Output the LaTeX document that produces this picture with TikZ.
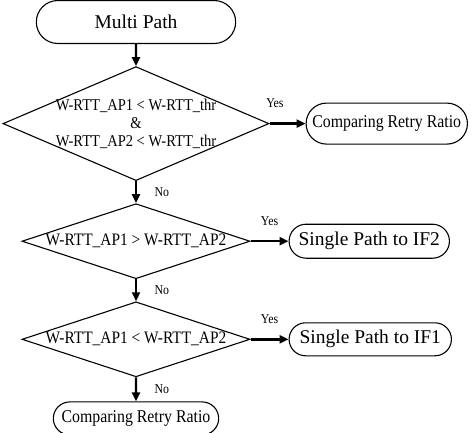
\documentclass[tikz,border=0pt]{standalone}
\usepackage{fontspec}
\setmainfont{Liberation Serif}
\newfontfamily\narrowfont{Liberation Serif}[FakeStretch=0.88]
\usetikzlibrary{arrows.meta, positioning, shapes.geometric, shapes.misc}

\begin{document}
\begin{tikzpicture}[
    x=1pt, y=1pt,
    node distance=22pt and 38pt,
    terminal/.style={rounded rectangle, draw, line width=1.1pt},
    decision/.style={diamond, draw, line width=1.1pt, inner sep=-8pt, align=center, font=\narrowfont\fontsize{17.5}{18}\selectfont},
    flow/.style={-{Triangle[length=9pt,width=8pt]}, line width=2.4pt},
    yes label/.style={midway, above=11pt, font=\narrowfont\fontsize{13.5}{15}\selectfont},
    no label/.style={midway, right=14pt, font=\narrowfont\fontsize{13.5}{15}\selectfont}
]
\useasboundingbox (0,0) rectangle (474,-432);

% Nodes
\node[terminal, minimum width=206pt, minimum height=43pt, font=\fontsize{19.5}{22}\selectfont] (start) at (136,-22) {Multi Path};
\node[decision, minimum width=266pt, minimum height=114pt, aspect=2.33, font=\narrowfont\fontsize{16.5}{18}\selectfont, below=of start] (d1) {W-RTT\_AP1 < W-RTT\_thr\\ \&\\ W-RTT\_AP2 < W-RTT\_thr};
\node[terminal, minimum width=168pt, minimum height=41pt, font=\narrowfont\fontsize{18}{20}\selectfont, right=36pt of d1] (retry1) {Comparing Retry Ratio};
\node[decision, minimum width=228pt, minimum height=75pt, aspect=3.04, below=of d1] (d2) {W-RTT\_AP1 > W-RTT\_AP2};
\node[terminal, minimum width=167pt, minimum height=34pt, font=\fontsize{19.5}{22}\selectfont, right=of d2] (if2) {Single Path to IF2};
\node[decision, minimum width=228pt, minimum height=75pt, aspect=3.04, below=of d2] (d3) {W-RTT\_AP1 < W-RTT\_AP2};
\node[terminal, minimum width=169pt, minimum height=33pt, font=\fontsize{19.5}{22}\selectfont, right=of d3] (if1) {Single Path to IF1};
\node[terminal, minimum width=172pt, minimum height=33pt, font=\narrowfont\fontsize{18}{20}\selectfont, below=24pt of d3] (retry2) {Comparing Retry Ratio};

% Edges
\draw[flow] (start) -- (d1);
\draw[flow] (d1) -- (retry1) node[yes label, pos=0.15] {Yes};
\draw[flow] (d1) -- (d2) node[no label] {No};
\draw[flow] (d2) -- (if2) node[yes label] {Yes};
\draw[flow] (d2) -- (d3) node[no label] {No};
\draw[flow] (d3) -- (if1) node[yes label] {Yes};
\draw[flow] (d3) -- (retry2) node[no label] {No};

\end{tikzpicture}
\end{document}
